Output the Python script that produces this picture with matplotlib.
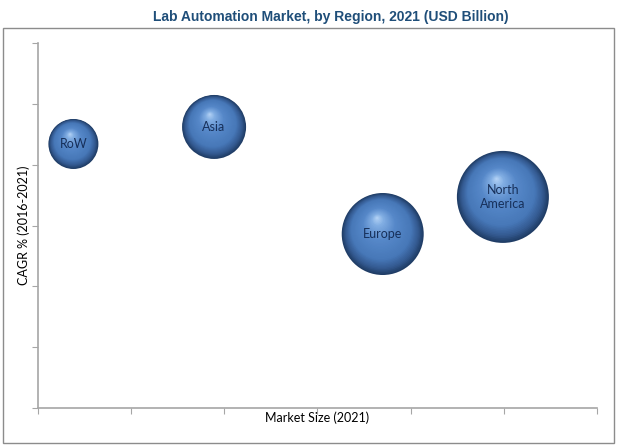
import numpy as np
import matplotlib.pyplot as plt
import matplotlib.transforms as mtransforms
from matplotlib import font_manager
from matplotlib.colors import LinearSegmentedColormap
from matplotlib.patches import Rectangle

regions = ['RoW', 'Asia', 'Europe', 'North\nAmerica']
market_size = [0.38, 1.89, 3.70, 4.99]
cagr = [4.34, 4.62, 2.86, 3.47]
bubble = [1296, 2123, 3485, 4389]

names = {f.name for f in font_manager.fontManager.ttflist}
title_font = 'Liberation Sans Narrow' if 'Liberation Sans Narrow' in names else 'Liberation Sans'
label_font = 'Lato' if 'Lato' in names else 'DejaVu Sans'

fig = plt.figure(figsize=(6.18, 4.48), dpi=100)
ax = fig.add_axes([0.0615, 0.0893, 0.9045, 0.8147])

# outer frame
fig.patches.append(Rectangle((3 / 618, 5 / 448), 611 / 618, 415 / 448,
                             transform=fig.transFigure, fill=False,
                             edgecolor='#8c8c8c', linewidth=1.0))

cmap = LinearSegmentedColormap.from_list(
    'sphere', [(0, '#203d66'), (0.1, '#33598f'), (0.26, '#4778b8'),
               (0.6, '#5688c9'), (0.85, '#82aee3'), (1, '#b8d6f7')])

n = 40
for x, y, s in zip(market_size, cagr, bubble):
    d = np.sqrt(s)  # diameter in points
    for k in range(n):
        f = 1 - k / n
        dx = -0.07 * d * (1 - f) / 72
        dy = 0.20 * d * (1 - f) / 72
        tr = ax.transData + mtransforms.ScaledTranslation(dx, dy, fig.dpi_scale_trans)
        ax.scatter([x], [y], s=s * f * f, color=cmap(1 - f), edgecolors='none',
                   transform=tr, zorder=3 + k * 0.01)

for x, y, lab in zip(market_size, cagr, regions):
    ax.text(x, y, lab, ha='center', va='center', fontsize=9, family=label_font,
            color='#17305a', zorder=5, linespacing=1.25)

ax.set_xlim(0, 6)
ax.set_ylim(0, 6)
ax.set_xticks(range(7))
ax.set_yticks(range(7))
ax.set_xticklabels([])
ax.set_yticklabels([])
ax.tick_params(direction='out', length=4, color='#a6a6a6', width=0.8)
for sp in ['top', 'right']:
    ax.spines[sp].set_visible(False)
for sp in ['left', 'bottom']:
    ax.spines[sp].set_color('#a6a6a6')
    ax.spines[sp].set_linewidth(1.2)

ax.set_xlabel('Market Size (2021)', fontsize=9, family=label_font, labelpad=-5)
ax.set_ylabel('CAGR % (2016-2021)', fontsize=9, family=label_font, labelpad=-2)
fig.text(0.535, 0.962, 'Lab Automation Market, by Region, 2021 (USD Billion)',
         ha='center', va='center', fontsize=10, fontweight='bold',
         color='#1f4e79', family=title_font)

fig.savefig('out.png', dpi=100)
